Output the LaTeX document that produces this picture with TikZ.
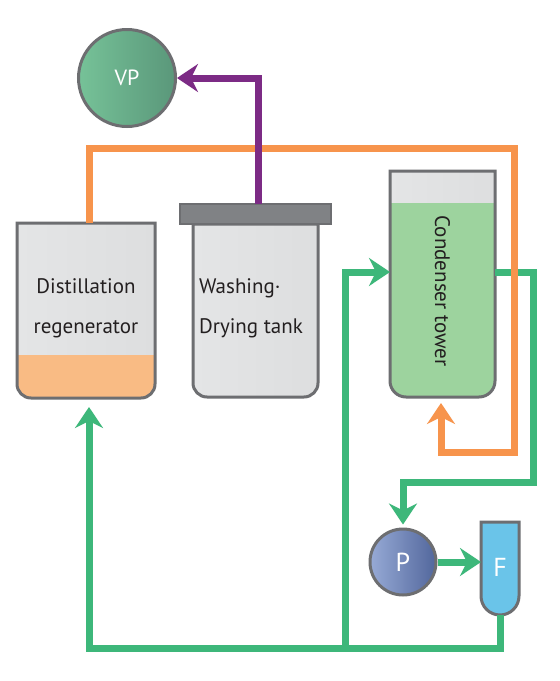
\documentclass[tikz,border=0pt]{standalone}
\usepackage{fontspec}
\setmainfont{PT Sans}
\usetikzlibrary{arrows.meta}
\definecolor{vpL}{HTML}{76C298}
\definecolor{vpR}{HTML}{5A977A}
\definecolor{pL}{HTML}{97AAD6}
\definecolor{pR}{HTML}{52679C}
\definecolor{fcol}{HTML}{6AC4E9}
\definecolor{bord}{HTML}{6D6E71}
\definecolor{lidfill}{HTML}{808285}
\definecolor{gline}{HTML}{3DB77A}
\definecolor{oline}{HTML}{F7944C}
\definecolor{pline}{HTML}{7C2B85}
\definecolor{regorange}{HTML}{F9BB84}
\definecolor{condgreen}{HTML}{9DD39E}
\definecolor{txt}{HTML}{231F20}
\definecolor{gA}{HTML}{E4E5E6}
\definecolor{gB}{HTML}{F2F2F3}
\definecolor{gC}{HTML}{DDDEDF}
\def\vesselpath#1#2#3#4#5{(#1,#2) -- (#1,#4-#5) arc[start angle=180,end angle=90,radius=#5] -- (#3-#5,#4) arc[start angle=90,end angle=0,radius=#5] -- (#3,#2) -- cycle}
\tikzset{
  anchorbox/.style={inner sep=0pt, outer sep=0pt, draw=none, rectangle},
  outline/.style={draw=bord, line width=3pt},
  grayshade/.style={left color=gA, middle color=gB, right color=gC},
  lbl/.style={text=txt, font=\fontsize{21}{25}\selectfont, inner sep=0pt},
  wlbl/.style={text=white, font=\fontsize{22}{26}\selectfont, inner sep=0pt},
  blbl/.style={text=white, font=\fontsize{26}{30}\selectfont, inner sep=0pt},
  chev/.style={-{Stealth[length=21pt,width=28pt,inset=7pt]}},
  gflow/.style={draw=gline, line width=7pt},
  oflow/.style={draw=oline, line width=7pt},
  pflow/.style={draw=pline, line width=7pt},
}
\begin{document}
\begin{tikzpicture}[x=1pt,y=-1pt]
\useasboundingbox[fill=white] (0,0) rectangle (560,681);

% anchor boxes
\node[anchorbox, minimum width=138pt, minimum height=175pt] (reg) at (86,310.5) {};
\node[anchorbox, minimum width=125pt, minimum height=173pt] (wash) at (255.5,310.5) {};
\node[anchorbox, minimum width=151pt, minimum height=20pt] (lid) at (255.5,214) {};
\node[anchorbox, minimum width=105pt, minimum height=226pt] (cond) at (442.5,284) {};
\node[anchorbox, minimum width=38pt, minimum height=93pt] (f) at (500,568.5) {};

% distillation regenerator
\shade[grayshade] \vesselpath{17}{223}{155}{398}{14};
\begin{scope}
  \clip \vesselpath{17}{223}{155}{398}{14};
  \fill[regorange] (15,355) rectangle (157,400);
\end{scope}
\draw[outline] \vesselpath{17}{223}{155}{398}{14};
\node[lbl, anchor=base] (regt1) at (86,293) {Distillation};
\node[lbl, anchor=base] (regt2) at (86,333) {regenerator};

% washing drying tank
\shade[grayshade] \vesselpath{193}{224}{318}{397}{14};
\draw[outline] \vesselpath{193}{224}{318}{397}{14};
\draw[fill=lidfill, draw=bord, line width=2pt] (lid.north west) rectangle (lid.south east);
\node[lbl, anchor=base west] (wt1) at (199,293) {Washing·};
\node[lbl, anchor=base west] (wt2) at (199,333) {Drying tank};

% condenser tower
\begin{scope}
  \clip \vesselpath{390}{171}{495}{397}{16};
  \shade[grayshade] (388,169) rectangle (497,204);
  \fill[condgreen] (388,203) rectangle (497,400);
\end{scope}
\draw[outline] \vesselpath{390}{171}{495}{397}{16};
\node[lbl, rotate=-90, anchor=base] (condt) at (435,291) {Condenser tower};

% VP, P, F
\node[circle, minimum size=97pt, inner sep=0pt, draw=bord, line width=3pt, left color=vpL, right color=vpR, wlbl] (vp) at (127,78) {VP};
\node[circle, minimum size=66pt, inner sep=0pt, draw=bord, line width=3pt, left color=pL, right color=pR, blbl] (p) at (403,562) {P};
\fill[fcol] \vesselpath{481}{522}{519}{615}{19};
\draw[outline] \vesselpath{481}{522}{519}{615}{19};
\node[blbl] (ft) at (500,567) {F};

% connector corners
\coordinate (g1) at (89,648);
\coordinate (rin) at (89,407);
\coordinate (gj) at (345,648);
\coordinate (g3) at (533,482);
\coordinate (o0) at (89,223);
\coordinate (o1) at (514,148);
\coordinate (o2) at (441,452);
\coordinate (o3) at (441,403);

% green flows
\draw[gflow, chev] (f.south) |- (g1) -- (rin);
\draw[gflow, chev] (gj) |- ([yshift=12pt]cond.west);
\draw[gflow, chev] ([yshift=12pt]cond.east) -| (g3) -| ([yshift=3pt]p.north);
\draw[gflow, chev] (p.east) -- (p.east -| f.west);

% orange flow
\draw[oflow, chev] (o0) |- (o1) |- (o2) -- (o3);

% purple flow
\draw[pflow, chev] ([xshift=2.5pt]lid.north) |- (vp);
\end{tikzpicture}
\end{document}
